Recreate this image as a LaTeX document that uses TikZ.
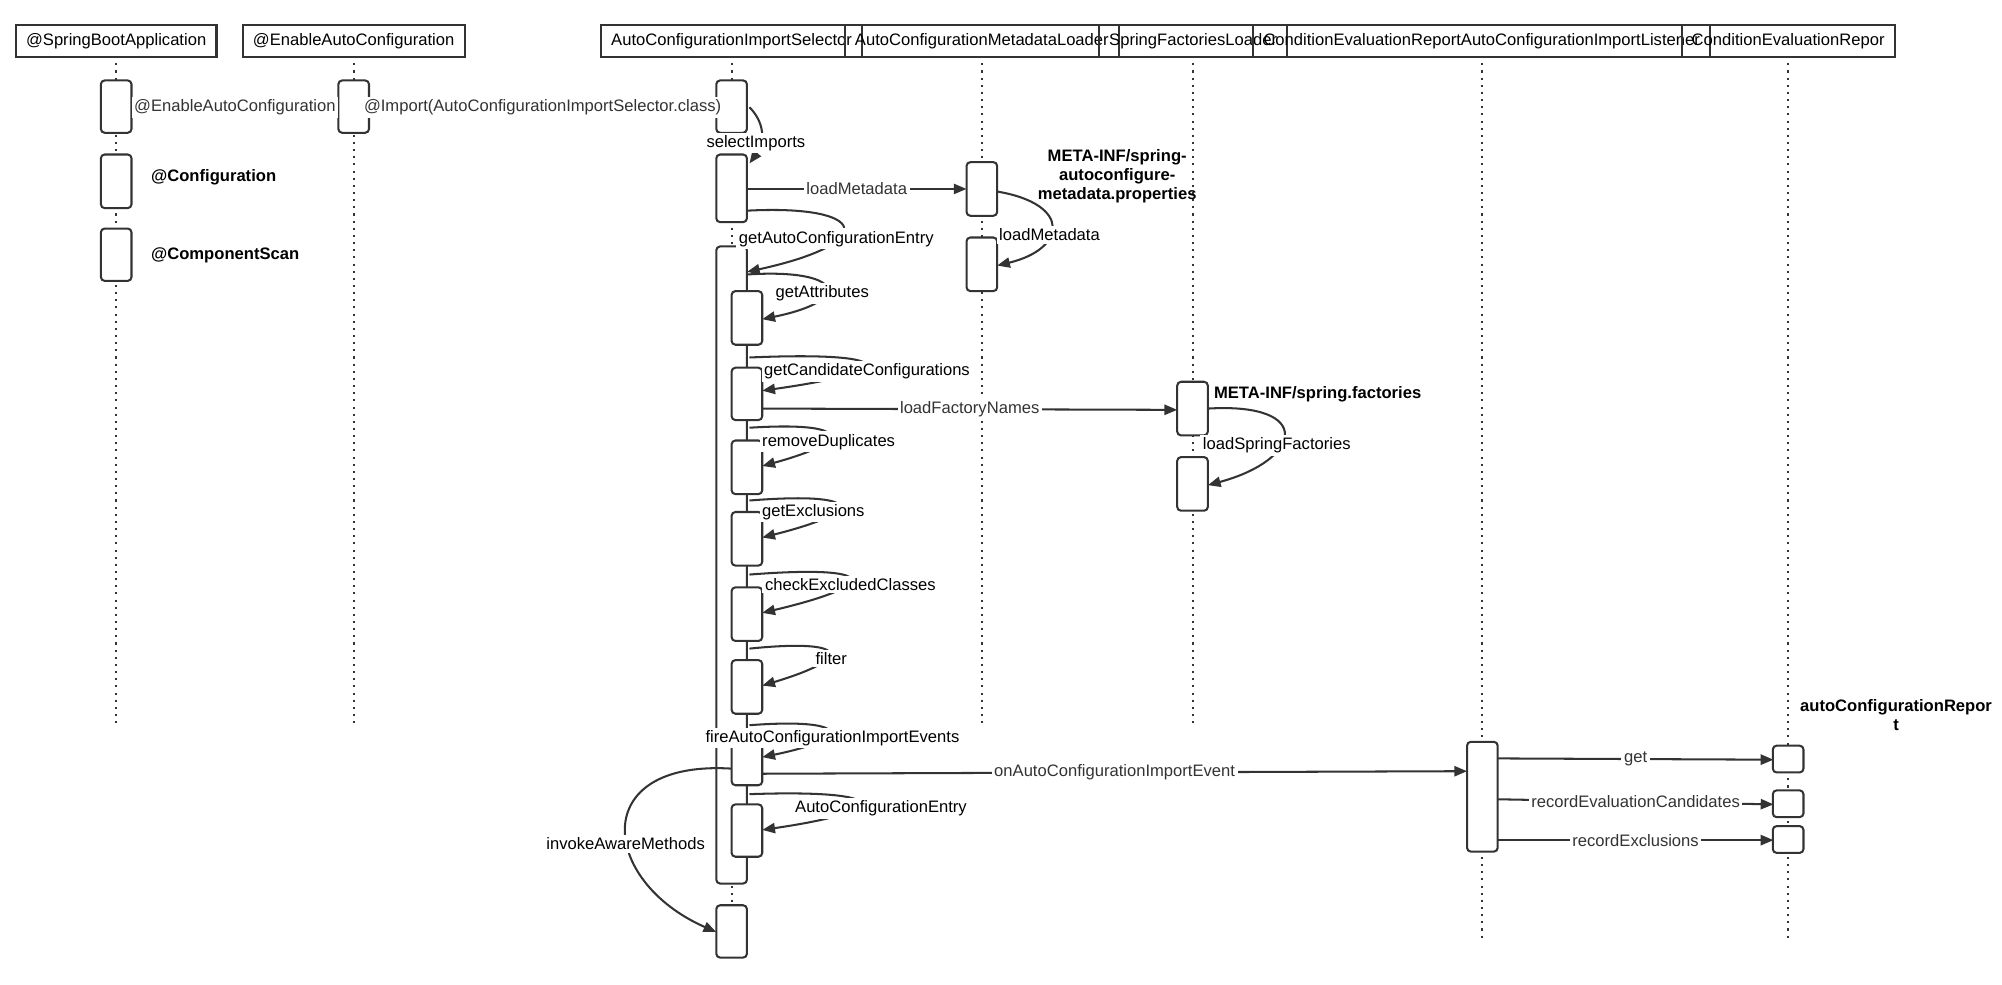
\documentclass[tikz,border=0pt]{standalone}
\usepackage{fontspec}
\setmainfont{Liberation Sans}
\usetikzlibrary{arrows.meta}
\definecolor{ink}{HTML}{333333}
\tikzset{
  head/.style={draw=ink, thick, minimum height=12pt, inner xsep=4pt, font=\fontsize{6.5}{7.5}\selectfont},
  life/.style={ink, dotted, thick},
  actbox/.style={draw=ink, thick, fill=white, rounded corners=1.5pt},
  msg/.style={ink, thick, -{Triangle[length=5pt,width=4pt]}},
  lbl/.style={fill=white, inner sep=1pt, font=\fontsize{6.5}{7.5}\selectfont},
  note/.style={font=\bfseries\fontsize{6.5}{7.5}\selectfont, align=center, inner sep=1pt}
}
\newcommand{\actbar}[3]{\draw[actbox] (#1-12,#2) rectangle (#1+12,#3);}
\begin{document}
\begin{tikzpicture}[x=0.5pt, y=-0.5pt]
  \useasboundingbox (0,0) rectangle (1568,771);

  % Lifelines
  \foreach \x/\e in {91/567, 277/567, 573/750, 769/567, 934/567, 1161/735, 1400/735} {
    \draw[life] (\x,44) -- (\x,\e);
  }

  % Headers
  \node[head, minimum width=71pt] (sba) at (91,32) {@SpringBootApplication};
  \node[head, minimum width=76pt] (eac) at (277,32) {@EnableAutoConfiguration};
  \node[head, minimum width=90.5pt] (ais) at (573,32) {AutoConfigurationImportSelector};
  \node[head, minimum width=93.5pt] (aml) at (769,32) {AutoConfigurationMetadataLoader};
  \node[head, minimum width=62.5pt] (sfl) at (934.5,32) {SpringFactoriesLoader};
  \node[head, minimum width=155.5pt] (lst) at (1160.5,32) {ConditionEvaluationReportAutoConfigurationImportListener};
  \node[head, minimum width=72.5pt] (rep) at (1400.5,32) {ConditionEvaluationRepor};

  % Activations
  \actbar{91}{63}{104}
  \actbar{91}{121}{163}
  \actbar{91}{179}{220}
  \actbar{277}{63}{104}
  \actbar{573}{63}{104}
  \actbar{573}{121}{174}
  \actbar{573}{193}{692}
  \actbar{573}{709}{750}
  \foreach \a/\b in {228/270, 288/329, 345/387, 401/443, 460/502, 517/559, 580/615, 630/671} {
    \actbar{585}{\a}{\b}
  }
  \actbar{769}{127}{169}
  \actbar{769}{186}{228}
  \actbar{934}{299}{341}
  \actbar{934}{358}{400}
  \actbar{1161}{581}{667}
  \actbar{1400.5}{584}{605}
  \actbar{1400.5}{619}{640}
  \actbar{1400.5}{647}{668}

  % Messages
  \draw[msg] (103,84) -- (265,84) node[lbl, midway] {@EnableAutoConfiguration};
  \draw[msg] (289,84) -- (561,84) node[lbl, midway] {@Import(AutoConfigurationImportSelector.class)};
  \draw[msg] (587,84) .. controls (598,95) and (600,110) .. (587,128);
  \node[lbl] at (592,112) {selectImports};
  \draw[msg] (585,148) -- (757,148) node[lbl, pos=0.5] {loadMetadata};
  \draw[msg] (781,150) .. controls (840,160) and (835,195) .. (781,208);
  \node[lbl] at (822,184) {loadMetadata};
  \node[note] at (875,138) {META-INF/spring-\\autoconfigure-\\metadata.properties};
  \draw[msg] (585,165) .. controls (680,160) and (690,190) .. (585,213);
  \node[lbl] at (655,187) {getAutoConfigurationEntry};
  \draw[msg] (585,215) .. controls (660,210) and (670,235) .. (597,250);
  \node[lbl] at (644,230) {getAttributes};
  \draw[msg] (587,280) .. controls (700,275) and (710,290) .. (597,306);
  \node[lbl] at (679,291) {getCandidateConfigurations};
  \draw[msg] (597,320) -- (922,321) node[lbl, midway] {loadFactoryNames};
  \draw[msg] (946,320) .. controls (1030,315) and (1020,360) .. (946,380);
  \node[lbl] at (1000,349) {loadSpringFactories};
  \node[note] at (1032,309) {META-INF/spring.factories};
  \draw[msg] (587,335) .. controls (665,330) and (670,345) .. (597,365);
  \node[lbl] at (649,346) {removeDuplicates};
  \draw[msg] (587,392) .. controls (675,385) and (680,400) .. (597,421);
  \node[lbl] at (637,401) {getExclusions};
  \draw[msg] (587,450) .. controls (690,442) and (690,458) .. (597,480);
  \node[lbl] at (666,458) {checkExcludedClasses};
  \draw[msg] (587,508) .. controls (665,500) and (670,515) .. (597,537);
  \node[lbl] at (651,516) {filter};
  \draw[msg] (587,568) .. controls (665,562) and (670,578) .. (597,593);
  \node[lbl] at (652,578) {fireAutoConfigurationImportEvents};
  \draw[msg] (597,606) -- (1149,604) node[lbl, midway] {onAutoConfigurationImportEvent};
  \draw[msg] (587,622) .. controls (700,618) and (700,635) .. (597,650);
  \node[lbl] at (690,633) {AutoConfigurationEntry};
  \draw[msg] (573,602) .. controls (460,595) and (470,690) .. (561,730);
  \node[lbl] at (490,661) {invokeAwareMethods};
  \draw[msg] (1173,594) -- (1389,595) node[lbl, midway] {get};
  \draw[msg] (1173,626) -- (1389,630) node[lbl, midway] {recordEvaluationCandidates};
  \draw[msg] (1173,658) -- (1389,658) node[lbl, midway] {recordExclusions};

  % Notes on the left and right
  \node[note, anchor=west] at (116,139) {@Configuration};
  \node[note, anchor=west] at (116,200) {@ComponentScan};
  \node[note] at (1485,560) {autoConfigurationRepor\\t};
\end{tikzpicture}
\end{document}
